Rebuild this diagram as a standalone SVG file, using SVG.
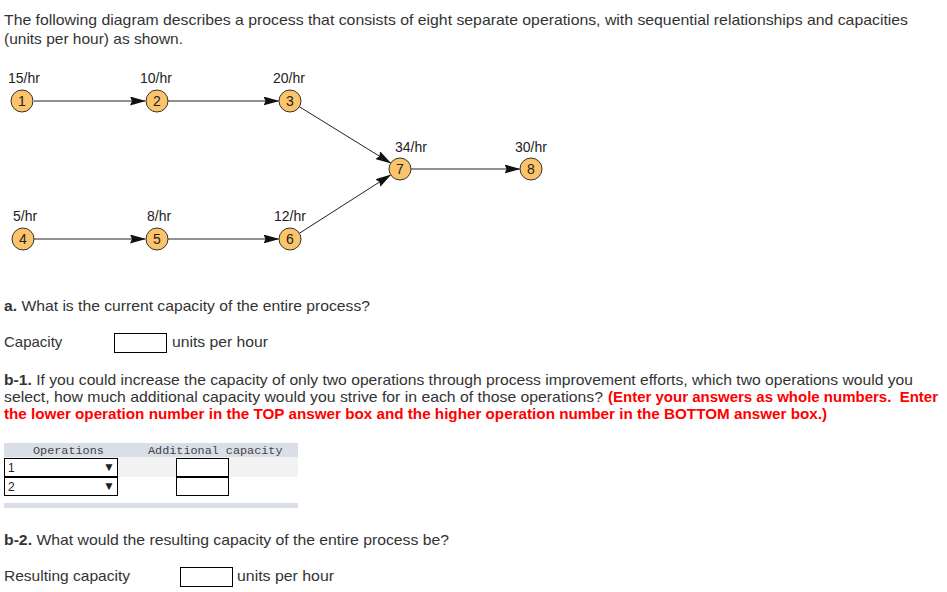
<svg xmlns="http://www.w3.org/2000/svg" width="947" height="592" viewBox="0 0 947 592">
<defs>
<style>
.body{font-family:"Liberation Sans",Arial,sans-serif;font-size:15px;fill:#333}
.b{font-weight:bold}
.red{fill:#ff0000;font-weight:bold}
.lbl{font-family:"Liberation Sans",Arial,sans-serif;font-size:14px;fill:#222}
.num{font-family:"Liberation Sans",Arial,sans-serif;font-size:14px;fill:#222;text-anchor:middle}
.node{fill:#fbc46b;stroke:#333;stroke-width:1}
.edge{stroke:#222;stroke-width:1;fill:none;marker-end:url(#ah)}
.mono{font-family:"Liberation Mono","DejaVu Sans Mono",monospace;font-size:11.8px;fill:#444}
.box{fill:#fff;stroke:#000;stroke-width:1}
.sel{font-family:"Liberation Sans",Arial,sans-serif;font-size:12px;fill:#222}
</style>
<marker id="ah" viewBox="0 0 16 9" markerWidth="16" markerHeight="9" refX="15" refY="4.5" orient="auto" markerUnits="userSpaceOnUse">
<path d="M0,0 L16,4.5 L0,9 L2,4.5 z" fill="#111"/>
</marker>
</defs>
<rect width="947" height="592" fill="#fff"/>

<text class="body" x="4" y="25" textLength="904" lengthAdjust="spacingAndGlyphs">The following diagram describes a process that consists of eight separate operations, with sequential relationships and capacities</text>
<text class="body" x="4" y="44" textLength="179" lengthAdjust="spacingAndGlyphs">(units per hour) as shown.</text>

<g id="connectors">
<line class="edge" x1="34" y1="101" x2="145" y2="101"/>
<line class="edge" x1="168" y1="101" x2="278.5" y2="101"/>
<line class="edge" x1="34" y1="239" x2="145" y2="239"/>
<line class="edge" x1="168" y1="239" x2="278.5" y2="239"/>
<line class="edge" x1="299" y1="106.5" x2="390.5" y2="163"/>
<line class="edge" x1="299" y1="233.5" x2="390.5" y2="175"/>
<line class="edge" x1="411" y1="169" x2="519.5" y2="169"/>
</g>

<g id="node1"><text class="lbl" x="8" y="83">15/hr</text><circle class="node" cx="22" cy="101" r="11"/><text class="num" x="22" y="106">1</text></g>
<g id="node2"><text class="lbl" x="140" y="83">10/hr</text><circle class="node" cx="157" cy="101" r="11"/><text class="num" x="157" y="106">2</text></g>
<g id="node3"><text class="lbl" x="273" y="83">20/hr</text><circle class="node" cx="290" cy="101" r="11"/><text class="num" x="290" y="106">3</text></g>
<g id="node4"><text class="lbl" x="13" y="221">5/hr</text><circle class="node" cx="23" cy="239" r="11"/><text class="num" x="23" y="244">4</text></g>
<g id="node5"><text class="lbl" x="147" y="221">8/hr</text><circle class="node" cx="157" cy="239" r="11"/><text class="num" x="157" y="244">5</text></g>
<g id="node6"><text class="lbl" x="274" y="221">12/hr</text><circle class="node" cx="290" cy="239" r="11"/><text class="num" x="290" y="244">6</text></g>
<g id="node7"><text class="lbl" x="395" y="152">34/hr</text><circle class="node" cx="400" cy="169" r="11"/><text class="num" x="400" y="174">7</text></g>
<g id="node8"><text class="lbl" x="515" y="152">30/hr</text><circle class="node" cx="531" cy="169" r="11"/><text class="num" x="531" y="174">8</text></g>

<text class="body" x="4" y="311" textLength="366" lengthAdjust="spacingAndGlyphs"><tspan class="b">a.</tspan> What is the current capacity of the entire process?</text>
<text class="body" x="4" y="347">Capacity</text>
<rect class="box" x="114.5" y="333.5" width="52" height="19"/>
<text class="body" x="172" y="347" textLength="96" lengthAdjust="spacingAndGlyphs">units per hour</text>

<text class="body" x="4" y="385" textLength="909" lengthAdjust="spacingAndGlyphs"><tspan class="b">b-1.</tspan> If you could increase the capacity of only two operations through process improvement efforts, which two operations would you</text>
<text class="body" x="4" y="402" textLength="599" lengthAdjust="spacingAndGlyphs">select, how much additional capacity would you strive for in each of those operations?</text>
<text class="body red" x="608" y="402" textLength="330" lengthAdjust="spacingAndGlyphs">(Enter your answers as whole numbers.&#160; Enter</text>
<text class="body red" x="4" y="419" textLength="823" lengthAdjust="spacingAndGlyphs">the lower operation number in the TOP answer box and the higher operation number in the BOTTOM answer box.)</text>

<rect x="4" y="443" width="294" height="14" fill="#d9dee8"/>
<text class="mono" x="33" y="454">Operations</text>
<text class="mono" x="148" y="454">Additional capacity</text>
<rect x="4" y="457" width="294" height="20" fill="#f2f2f2"/>
<rect class="box" x="4.5" y="458.5" width="113" height="18"/>
<text class="sel" x="8" y="472">1</text>
<text class="sel" x="103" y="471" font-size="8">▼</text>
<rect class="box" x="4.5" y="477.5" width="113" height="18"/>
<text class="sel" x="8" y="491">2</text>
<text class="sel" x="103" y="490" font-size="8">▼</text>
<rect class="box" x="176.5" y="458.5" width="52" height="18"/>
<rect class="box" x="176.5" y="477.5" width="52" height="18"/>
<rect x="4" y="503" width="294" height="5" fill="#d9dee8"/>

<text class="body" x="4" y="545" textLength="445" lengthAdjust="spacingAndGlyphs"><tspan class="b">b-2.</tspan> What would the resulting capacity of the entire process be?</text>
<text class="body" x="4" y="581" textLength="126" lengthAdjust="spacingAndGlyphs">Resulting capacity</text>
<rect class="box" x="180.5" y="567.5" width="52" height="19"/>
<text class="body" x="237" y="581" textLength="97" lengthAdjust="spacingAndGlyphs">units per hour</text>
</svg>
